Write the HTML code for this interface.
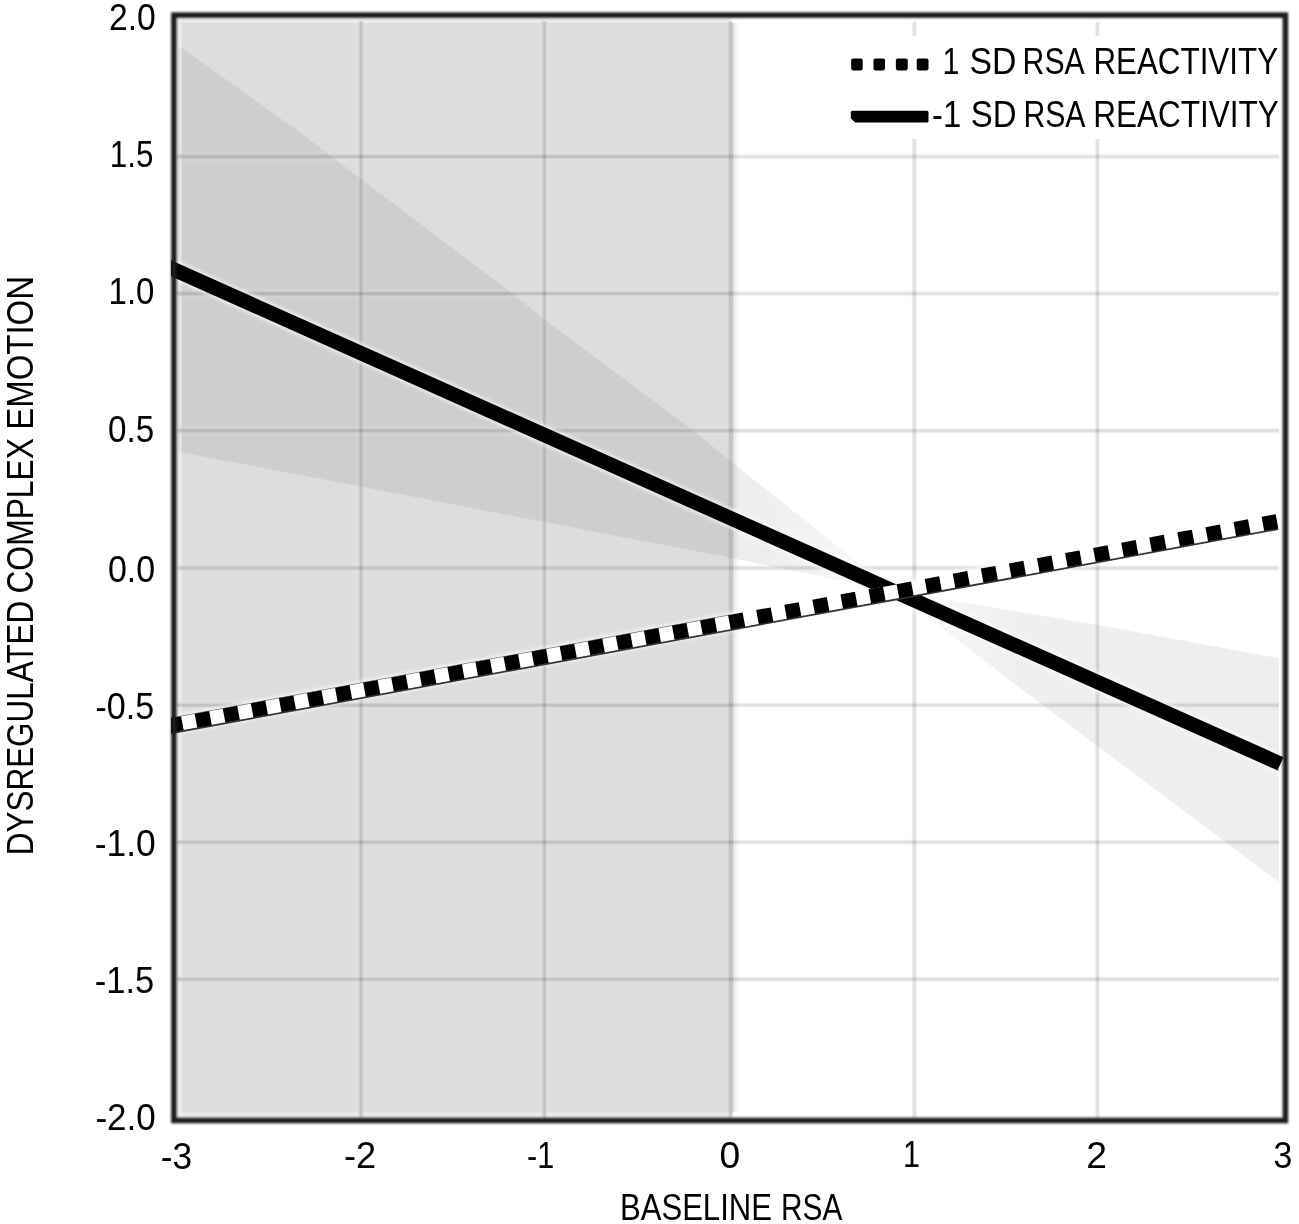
<!DOCTYPE html>
<html lang="en">
<head>
<meta charset="utf-8">
<title>Baseline RSA × RSA Reactivity</title>
<style>
html,body{margin:0;padding:0;background:#fff;}
body{width:1299px;height:1224px;overflow:hidden;}
svg{display:block;}
text{font-family:"Liberation Sans",sans-serif;fill:#000;}
</style>
</head>
<body>
<svg width="1299" height="1224" viewBox="0 0 1299 1224">
<rect width="1299" height="1224" fill="#fff"/>
<defs>
<clipPath id="plot"><rect x="178" y="23" width="1101" height="1089"/></clipPath>
<clipPath id="frame"><rect x="171" y="12" width="1117" height="1111"/></clipPath>
<filter id="soft" x="-5%" y="-5%" width="110%" height="110%"><feGaussianBlur stdDeviation="1.1"/></filter>
<filter id="soft3" x="-5%" y="-5%" width="110%" height="110%"><feGaussianBlur stdDeviation="1.5"/></filter>
<clipPath id="gray"><rect x="182" y="23" width="547" height="1089"/></clipPath>
<filter id="soft4" x="-5%" y="-5%" width="110%" height="110%"><feGaussianBlur stdDeviation="0.85"/></filter>
<clipPath id="plotG"><rect x="177" y="21" width="555.5" height="1097"/></clipPath>
<clipPath id="plotW"><rect x="732.5" y="22" width="546.5" height="1096"/></clipPath>
<linearGradient id="fade" x1="0" x2="1" y1="0" y2="0"><stop offset="0" stop-color="#000" stop-opacity="0.12"/><stop offset="1" stop-color="#000" stop-opacity="0"/></linearGradient>
<filter id="soft5" x="-5%" y="-5%" width="110%" height="110%"><feGaussianBlur stdDeviation="0.9"/></filter>
<linearGradient id="band" gradientUnits="userSpaceOnUse" x1="177" x2="1282" y1="0" y2="0"><stop offset="0" stop-color="#eeeeee"/><stop offset="0.53" stop-color="#eeeeee"/><stop offset="0.649" stop-color="#fbfbfb"/><stop offset="0.76" stop-color="#efefef"/><stop offset="1" stop-color="#eeeeee"/></linearGradient>
<filter id="soft6" x="-10%" y="-20%" width="120%" height="140%"><feGaussianBlur stdDeviation="0.45"/></filter>
<clipPath id="plotL"><rect x="177" y="21" width="1100" height="1093"/></clipPath>
<filter id="soft2" x="-5%" y="-5%" width="110%" height="110%"><feGaussianBlur stdDeviation="0.9"/></filter>
</defs>

<!-- plot contents -->
<g clip-path="url(#plot)">
  <!-- confidence band -->
  <polygon fill="url(#band)" points="177,44.5 300,132.4 361.2,179.2 400,208.3 511.1,292.7 544.4,319.2 693.1,430.3 731,461.4 810,524.2 894,590.8 1097,624.8 1282,658.8 1282,884.4 1036,700 894,591.6 731,557.8 544.2,522.1 361,486.5 177,451.6"/>
</g>
<!-- region of significance -->
<rect x="177" y="18" width="552.6" height="1099.5" fill="#000" fill-opacity="0.135"/>
<g fill="#fff" fill-opacity="0.42">
  <rect x="177" y="18" width="5" height="1099.5"/>
  <rect x="182" y="18" width="547.6" height="5"/>
  <rect x="182" y="1112.5" width="547.6" height="5"/>
</g>
<g clip-path="url(#gray)" stroke="#fff" stroke-opacity="0.2" stroke-width="7" filter="url(#soft3)">
  <line x1="361" y1="0" x2="361" y2="1224"/>
  <line x1="544.4" y1="0" x2="544.4" y2="1224"/>
  <line x1="0" y1="156.6" x2="1299" y2="156.6"/>
  <line x1="0" y1="293.6" x2="1299" y2="293.6"/>
  <line x1="0" y1="430.8" x2="1299" y2="430.8"/>
  <line x1="0" y1="568" x2="1299" y2="568"/>
  <line x1="0" y1="705.1" x2="1299" y2="705.1"/>
  <line x1="0" y1="842.1" x2="1299" y2="842.1"/>
  <line x1="0" y1="979.2" x2="1299" y2="979.2"/>
</g>
<!-- gridlines -->
<g clip-path="url(#plotG)">
  <g stroke="#000" stroke-opacity="0.215" stroke-width="2.6" filter="url(#soft5)">
    <line x1="361" y1="0" x2="361" y2="1224"/>
    <line x1="544.4" y1="0" x2="544.4" y2="1224"/>
    <line x1="730.8" y1="0" x2="730.8" y2="1224"/>
    <line x1="914.3" y1="0" x2="914.3" y2="1224"/>
    <line x1="1097.4" y1="0" x2="1097.4" y2="1224"/>
    <line x1="0" y1="156.6" x2="1299" y2="156.6"/>
    <line x1="0" y1="293.6" x2="1299" y2="293.6"/>
    <line x1="0" y1="430.8" x2="1299" y2="430.8"/>
    <line x1="0" y1="568" x2="1299" y2="568"/>
    <line x1="0" y1="705.1" x2="1299" y2="705.1"/>
    <line x1="0" y1="842.1" x2="1299" y2="842.1"/>
    <line x1="0" y1="979.2" x2="1299" y2="979.2"/>
  </g>
</g>
<g clip-path="url(#plotW)">
  <g stroke="#000" stroke-opacity="0.19" stroke-width="2.4" filter="url(#soft4)">
    <line x1="361" y1="0" x2="361" y2="1224"/>
    <line x1="544.4" y1="0" x2="544.4" y2="1224"/>
    <line x1="730.8" y1="0" x2="730.8" y2="1224"/>
    <line x1="914.3" y1="0" x2="914.3" y2="1224"/>
    <line x1="1097.4" y1="0" x2="1097.4" y2="1224"/>
    <line x1="0" y1="156.6" x2="1299" y2="156.6"/>
    <line x1="0" y1="293.6" x2="1299" y2="293.6"/>
    <line x1="0" y1="430.8" x2="1299" y2="430.8"/>
    <line x1="0" y1="568" x2="1299" y2="568"/>
    <line x1="0" y1="705.1" x2="1299" y2="705.1"/>
    <line x1="0" y1="842.1" x2="1299" y2="842.1"/>
    <line x1="0" y1="979.2" x2="1299" y2="979.2"/>
  </g>
</g>
<rect x="729.3" y="22" width="3.4" height="1094" fill="#000" fill-opacity="0.1" filter="url(#soft5)"/>
<rect x="732" y="23" width="7" height="1089" fill="url(#fade)"/>

<!-- lines -->
<g clip-path="url(#frame)">
  <g clip-path="url(#plotL)" stroke="#fff" stroke-opacity="0.55" filter="url(#soft3)">
    <line x1="160" y1="263.39" x2="1280.5" y2="763.8" stroke-width="19.5"/>
    <line x1="167.9" y1="725.9" x2="1277" y2="521.3" stroke-width="20"/>
  </g>
  <line x1="160" y1="263.39" x2="1280.5" y2="763.8" stroke="#000" stroke-width="14.5"/>
  <line x1="167.9" y1="727.5" x2="1277" y2="522.9" stroke="#333" stroke-width="14.2"/>
  <line x1="167.9" y1="725.4" x2="731" y2="621.5" stroke="#777" stroke-width="14.2"/>
  <line x1="167.9" y1="725.9" x2="1277" y2="521.3" stroke="#fff" stroke-width="13.8"/>
  <line x1="167.9" y1="725.9" x2="1277" y2="521.3" stroke="#000" stroke-width="14.4" stroke-dasharray="14.75 13.8"/>
</g>

<!-- frame -->
<rect x="173.9" y="15.1" width="1111.5" height="1105.4" fill="none" stroke="#1a1a1a" stroke-width="5.5" filter="url(#soft2)"/>

<!-- legend -->
<rect x="838" y="36" width="441" height="103" fill="#fff"/>
<g fill="#000" filter="url(#soft6)">
  <rect x="851.2" y="58.5" width="11.5" height="11.9" rx="1.8"/>
  <rect x="873.5" y="58.5" width="11.5" height="11.9" rx="1.8"/>
  <rect x="895.9" y="58.5" width="11.8" height="11.9" rx="1.8"/>
  <rect x="916.7" y="58.5" width="11.8" height="11.9" rx="1.8"/>
  <path d="M852.3,110.8 H927 Q928.5,110.8 928.5,112.3 V120.9 Q928.5,122.4 927,122.4 H855.2 L850.8,118.3 V112.3 Q850.8,110.8 852.3,110.8 Z"/>
</g>
<text y="73.7" font-size="36"><tspan x="942.40" textLength="16.91" lengthAdjust="spacingAndGlyphs">1</tspan> <tspan x="969.40" textLength="46.89" lengthAdjust="spacingAndGlyphs">SD</tspan> <tspan x="1022.60" textLength="60.41" lengthAdjust="spacingAndGlyphs">RSA</tspan> <tspan x="1093.40" textLength="184.65" lengthAdjust="spacingAndGlyphs">REACTIVITY</tspan></text>
<text y="127.2" font-size="36"><tspan x="932.00" textLength="29.18" lengthAdjust="spacingAndGlyphs">-1</tspan> <tspan x="970.80" textLength="45.77" lengthAdjust="spacingAndGlyphs">SD</tspan> <tspan x="1023.40" textLength="60.41" lengthAdjust="spacingAndGlyphs">RSA</tspan> <tspan x="1093.20" textLength="185.68" lengthAdjust="spacingAndGlyphs">REACTIVITY</tspan></text>
<text y="30.3" font-size="36.6"><tspan x="109.00" textLength="46.79" lengthAdjust="spacingAndGlyphs">2.0</tspan></text>
<text y="167.4" font-size="36.6"><tspan x="109.80" textLength="43.71" lengthAdjust="spacingAndGlyphs">1.5</tspan></text>
<text y="304.2" font-size="36.6"><tspan x="108.60" textLength="45.77" lengthAdjust="spacingAndGlyphs">1.0</tspan></text>
<text y="442.4" font-size="36.6"><tspan x="108.00" textLength="46.16" lengthAdjust="spacingAndGlyphs">0.5</tspan></text>
<text y="582.0" font-size="36.6"><tspan x="108.00" textLength="47.15" lengthAdjust="spacingAndGlyphs">0.0</tspan></text>
<text y="719.0" font-size="36.6"><tspan x="95.40" textLength="58.75" lengthAdjust="spacingAndGlyphs">-0.5</tspan></text>
<text y="856.3" font-size="36.6"><tspan x="94.80" textLength="60.98" lengthAdjust="spacingAndGlyphs">-1.0</tspan></text>
<text y="993.1" font-size="36.6"><tspan x="94.80" textLength="59.39" lengthAdjust="spacingAndGlyphs">-1.5</tspan></text>
<text y="1129.9" font-size="36.6"><tspan x="95.40" textLength="60.34" lengthAdjust="spacingAndGlyphs">-2.0</tspan></text>
<text y="1169.0" font-size="36.6"><tspan x="160.80" textLength="31.38" lengthAdjust="spacingAndGlyphs">-3</tspan></text>
<text y="1168.1" font-size="36.6"><tspan x="344.00" textLength="32.14" lengthAdjust="spacingAndGlyphs">-2</tspan></text>
<text y="1167.8" font-size="36.6"><tspan x="527.00" textLength="27.17" lengthAdjust="spacingAndGlyphs">-1</tspan></text>
<text y="1167.8" font-size="36.6"><tspan x="719.60" textLength="20.66" lengthAdjust="spacingAndGlyphs">0</tspan></text>
<text y="1167.2" font-size="36.6"><tspan x="903.00" textLength="16.95" lengthAdjust="spacingAndGlyphs">1</tspan></text>
<text y="1168.1" font-size="36.6"><tspan x="1086.20" textLength="20.77" lengthAdjust="spacingAndGlyphs">2</tspan></text>
<text y="1168.1" font-size="36.6"><tspan x="1273.40" textLength="18.79" lengthAdjust="spacingAndGlyphs">3</tspan></text>
<text y="1219.7" font-size="36.4"><tspan x="620.00" textLength="151.91" lengthAdjust="spacingAndGlyphs">BASELINE</tspan> <tspan x="781.00" textLength="61.29" lengthAdjust="spacingAndGlyphs">RSA</tspan></text>
<text transform="translate(32.9,852.3) rotate(-90)" y="0" font-size="36.4"><tspan x="-2.90" textLength="254.47" lengthAdjust="spacingAndGlyphs">DYSREGULATED</tspan> <tspan x="258.70" textLength="155.65" lengthAdjust="spacingAndGlyphs">COMPLEX</tspan> <tspan x="422.50" textLength="153.84" lengthAdjust="spacingAndGlyphs">EMOTION</tspan></text>
</svg>
</body>
</html>
